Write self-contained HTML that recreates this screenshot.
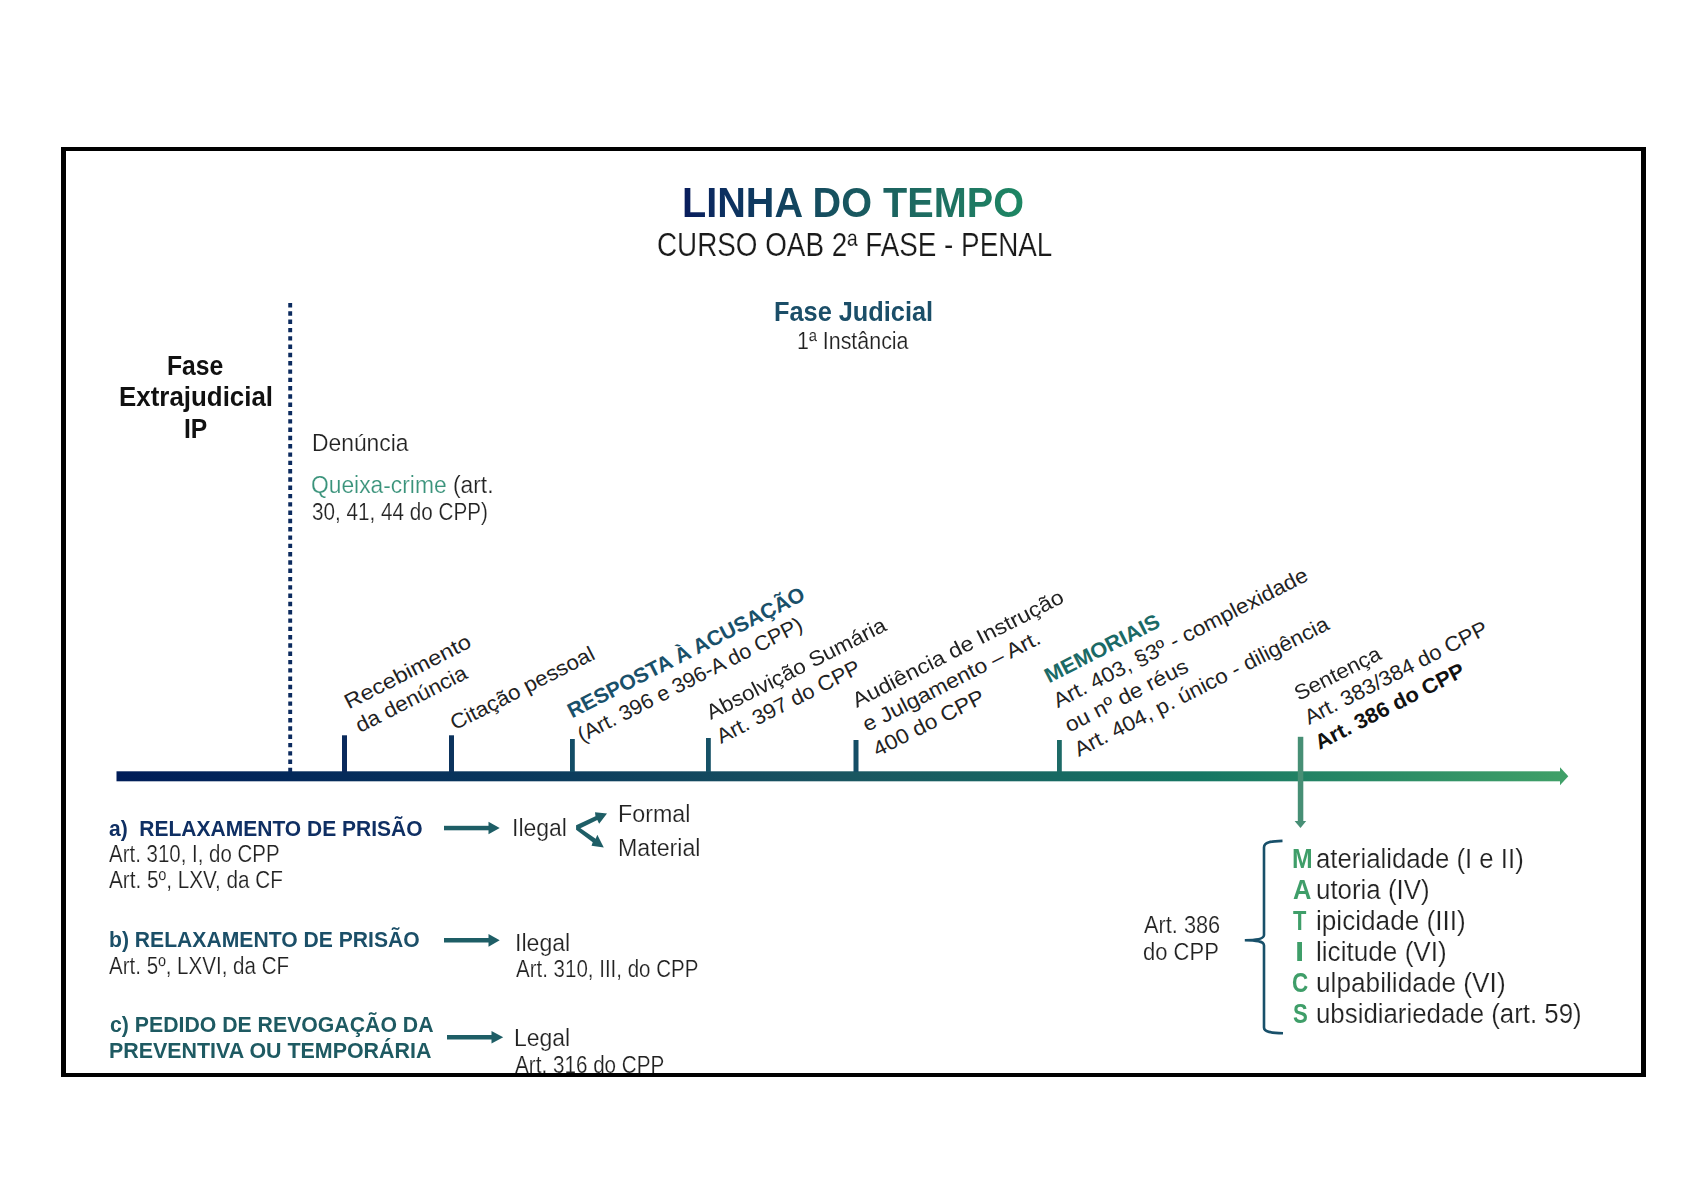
<!DOCTYPE html>
<html><head><meta charset="utf-8"><style>
html,body{margin:0;padding:0;background:#fff;}
body{width:1684px;height:1191px;position:relative;overflow:hidden;font-family:"Liberation Sans", sans-serif;}
.t{position:absolute;white-space:nowrap;line-height:1;transform-origin:0 0;}
.n{-webkit-text-stroke:0.2px #fff;}
.r{position:absolute;white-space:nowrap;transform-origin:0 0;}
.r div{white-space:nowrap;transform-origin:0 50%;}
</style></head><body>

<div class="t" style="left:682.11px;top:181.65px;font-size:42.00px;font-weight:bold;color:transparent;transform:scaleX(0.9436);background:linear-gradient(90deg,#091c5c 0%,#0c2f60 12%,#10405f 28%,#17525f 45%,#1c6460 62%,#1f7462 80%,#1d8763 100%);-webkit-background-clip:text;background-clip:text;">LINHA DO TEMPO</div>
<div class="t n" style="left:656.54px;top:229.10px;font-size:32.37px;font-weight:normal;color:#1a1a1a;transform:scaleX(0.8599);">CURSO OAB 2ª FASE - PENAL</div>
<div class="t" style="left:774.39px;top:297.65px;font-size:27.82px;font-weight:bold;color:#1b4e68;transform:scaleX(0.9107);">Fase Judicial</div>
<div class="t n" style="left:796.72px;top:329.13px;font-size:24.42px;font-weight:normal;color:#222;transform:scaleX(0.8775);">1ª Instância</div>
<div class="t" style="left:166.90px;top:351.90px;font-size:27.29px;font-weight:bold;color:#111;transform:scaleX(0.9048);">Fase</div>
<div class="t" style="left:119.45px;top:382.90px;font-size:27.29px;font-weight:bold;color:#111;transform:scaleX(0.9495);">Extrajudicial</div>
<div class="t" style="left:183.90px;top:415.00px;font-size:27.29px;font-weight:bold;color:#111;transform:scaleX(0.9032);">IP</div>
<div class="t n" style="left:311.74px;top:430.59px;font-size:23.76px;font-weight:normal;color:#222;transform:scaleX(0.9617);">Denúncia</div>
<div class="t n" style="left:311.05px;top:472.70px;font-size:23.98px;font-weight:normal;color:#222;transform:scaleX(0.9517);"><span style="color:#3a937b">Queixa-crime</span> (art.</div>
<div class="t n" style="left:312.00px;top:500.20px;font-size:23.98px;font-weight:normal;color:#222;transform:scaleX(0.8626);">30, 41, 44 do CPP)</div>
<div class="t" style="left:109.10px;top:818.13px;font-size:21.94px;font-weight:bold;color:#0f2f63;transform:scaleX(0.9575);">a)&nbsp; RELAXAMENTO DE PRISÃO</div>
<div class="t n" style="left:109.00px;top:842.66px;font-size:23.44px;font-weight:normal;color:#222;transform:scaleX(0.8728);">Art. 310, I, do CPP</div>
<div class="t n" style="left:109.00px;top:869.36px;font-size:23.44px;font-weight:normal;color:#222;transform:scaleX(0.8850);">Art. 5º, LXV, da CF</div>
<div class="t n" style="left:511.63px;top:816.24px;font-size:24.53px;font-weight:normal;color:#222;transform:scaleX(0.9373);">Ilegal</div>
<div class="t n" style="left:618.40px;top:802.24px;font-size:24.53px;font-weight:normal;color:#222;transform:scaleX(0.9502);">Formal</div>
<div class="t n" style="left:618.41px;top:836.34px;font-size:24.53px;font-weight:normal;color:#222;transform:scaleX(0.9457);">Material</div>
<div class="t" style="left:108.74px;top:928.63px;font-size:21.94px;font-weight:bold;color:#1b4f68;transform:scaleX(0.9632);">b) RELAXAMENTO DE PRISÃO</div>
<div class="t n" style="left:109.00px;top:954.66px;font-size:23.44px;font-weight:normal;color:#222;transform:scaleX(0.8774);">Art. 5º, LXVI, da CF</div>
<div class="t n" style="left:515.11px;top:930.94px;font-size:24.53px;font-weight:normal;color:#222;transform:scaleX(0.9427);">Ilegal</div>
<div class="t n" style="left:516.00px;top:957.96px;font-size:23.44px;font-weight:normal;color:#222;transform:scaleX(0.8749);">Art. 310, III, do CPP</div>
<div class="t" style="left:109.70px;top:1014.28px;font-size:22.47px;font-weight:bold;color:#1e5a62;transform:scaleX(0.9458);">c) PEDIDO DE REVOGAÇÃO DA</div>
<div class="t" style="left:109.05px;top:1040.48px;font-size:22.47px;font-weight:bold;color:#1e5a62;transform:scaleX(0.9529);">PREVENTIVA OU TEMPORÁRIA</div>
<div class="t n" style="left:514.13px;top:1026.44px;font-size:24.53px;font-weight:normal;color:#222;transform:scaleX(0.9374);">Legal</div>
<div class="t n" style="left:515.40px;top:1053.66px;font-size:23.44px;font-weight:normal;color:#222;transform:scaleX(0.8819);">Art. 316 do CPP</div>
<div class="t n" style="left:1143.50px;top:912.70px;font-size:23.98px;font-weight:normal;color:#222;transform:scaleX(0.9078);">Art. 386</div>
<div class="t n" style="left:1142.58px;top:939.70px;font-size:23.98px;font-weight:normal;color:#222;transform:scaleX(0.9179);">do CPP</div>
<div class="t" style="left:1291.60px;top:845.47px;font-size:27.56px;font-weight:bold;color:#3f9e69;transform:scaleX(0.9000);">M</div>
<div class="t n" style="left:1315.55px;top:845.94px;font-size:27.00px;font-weight:normal;color:#222;transform:scaleX(0.9545);">aterialidade (I e II)</div>
<div class="t" style="left:1292.50px;top:876.47px;font-size:27.56px;font-weight:bold;color:#3f9e69;transform:scaleX(0.9250);">A</div>
<div class="t n" style="left:1315.54px;top:876.94px;font-size:27.00px;font-weight:normal;color:#222;transform:scaleX(0.9584);">utoria (IV)</div>
<div class="t" style="left:1292.50px;top:907.47px;font-size:27.56px;font-weight:bold;color:#3f9e69;transform:scaleX(0.7941);">T</div>
<div class="t n" style="left:1315.53px;top:907.94px;font-size:27.00px;font-weight:normal;color:#222;transform:scaleX(0.9687);">ipicidade (III)</div>
<div class="t" style="left:1294.80px;top:938.47px;font-size:27.56px;font-weight:bold;color:#3f9e69;transform:scaleX(1.2000);">I</div>
<div class="t n" style="left:1315.53px;top:938.94px;font-size:27.00px;font-weight:normal;color:#222;transform:scaleX(0.9681);">licitude (VI)</div>
<div class="t" style="left:1291.68px;top:969.47px;font-size:27.56px;font-weight:bold;color:#3f9e69;transform:scaleX(0.8158);">C</div>
<div class="t n" style="left:1315.53px;top:969.94px;font-size:27.00px;font-weight:normal;color:#222;transform:scaleX(0.9719);">ulpabilidade (VI)</div>
<div class="t" style="left:1292.50px;top:1000.47px;font-size:27.56px;font-weight:bold;color:#3f9e69;transform:scaleX(0.8056);">S</div>
<div class="t n" style="left:1315.54px;top:1000.94px;font-size:27.00px;font-weight:normal;color:#222;transform:scaleX(0.9566);">ubsidiariedade (art. 59)</div>
<div class="r" style="left:349.68px;top:689.39px;transform-origin:0 20.43px;transform:rotate(-27.00deg);"><div class="" style="height:26.30px;line-height:26.30px;font-size:21.00px;font-weight:normal;color:#222;transform:translateX(-1.12px) scaleX(1.1241);">Recebimento</div><div class="" style="height:26.30px;line-height:26.30px;font-size:21.00px;font-weight:normal;color:#222;transform:translateX(-1.90px) scaleX(1.0684);">da denúncia</div></div>
<div class="r" style="left:456.18px;top:710.39px;transform-origin:0 20.43px;transform:rotate(-27.00deg);"><div class="" style="height:26.30px;line-height:26.30px;font-size:21.00px;font-weight:normal;color:#222;transform:translateX(-1.06px) scaleX(1.0626);">Citação pessoal</div></div>
<div class="r" style="left:572.78px;top:697.79px;transform-origin:0 20.43px;transform:rotate(-27.00deg);"><div class="" style="height:26.30px;line-height:26.30px;font-size:21.00px;font-weight:bold;color:#19506a;transform:translateX(-1.01px) scaleX(1.0104);">RESPOSTA À ACUSAÇÃO</div><div class="" style="height:26.30px;line-height:26.30px;font-size:21.00px;font-weight:normal;color:#222;transform:translateX(-2.92px) scaleX(1.0217);">(Art. 396 e 396-A do CPP)</div></div>
<div class="r" style="left:711.18px;top:700.39px;transform-origin:0 20.43px;transform:rotate(-27.00deg);"><div class="" style="height:26.30px;line-height:26.30px;font-size:21.00px;font-weight:normal;color:#222;transform:translateX(0.00px) scaleX(1.0704);">Absolvição Sumária</div><div class="" style="height:26.30px;line-height:26.30px;font-size:21.00px;font-weight:normal;color:#222;transform:translateX(-1.90px) scaleX(1.0435);">Art. 397 do CPP</div></div>
<div class="r" style="left:857.18px;top:688.19px;transform-origin:0 20.43px;transform:rotate(-27.00deg);"><div class="" style="height:26.30px;line-height:26.30px;font-size:21.00px;font-weight:normal;color:#222;transform:translateX(0.00px) scaleX(1.0960);">Audiência de Instrução</div><div class="" style="height:26.30px;line-height:26.30px;font-size:21.00px;font-weight:normal;color:#222;transform:translateX(-1.90px) scaleX(1.0873);">e Julgamento – Art.</div><div class="" style="height:26.30px;line-height:26.30px;font-size:21.00px;font-weight:normal;color:#222;transform:translateX(-3.80px) scaleX(1.0781);">400 do CPP</div></div>
<div class="r" style="left:1049.88px;top:663.49px;transform-origin:0 20.43px;transform:rotate(-27.00deg);"><div class="" style="height:26.30px;line-height:26.30px;font-size:21.00px;font-weight:bold;color:#1b6a66;transform:translateX(-1.04px) scaleX(1.0430);">MEMORIAIS</div><div class="" style="height:26.30px;line-height:26.30px;font-size:21.00px;font-weight:normal;color:#222;transform:translateX(-4.40px) scaleX(1.0690);">Art. 403, §3º - complexidade</div><div class="" style="height:26.30px;line-height:26.30px;font-size:21.00px;font-weight:normal;color:#222;transform:translateX(-5.30px) scaleX(1.0894);">ou nº de réus</div><div class="" style="height:26.30px;line-height:26.30px;font-size:21.00px;font-weight:normal;color:#222;transform:translateX(-7.70px) scaleX(1.0667);">Art. 404, p. único - diligência</div></div>
<div class="r" style="left:1298.78px;top:681.29px;transform-origin:0 20.43px;transform:rotate(-27.00deg);"><div class="" style="height:26.30px;line-height:26.30px;font-size:21.00px;font-weight:normal;color:#222;transform:translateX(0.00px) scaleX(1.0622);">Sentença</div><div class="" style="height:26.30px;line-height:26.30px;font-size:21.00px;font-weight:normal;color:#222;transform:translateX(-1.90px) scaleX(1.0511);">Art. 383/384 do CPP</div><div class="" style="height:26.30px;line-height:26.30px;font-size:21.00px;font-weight:bold;color:#111;transform:translateX(-3.80px) scaleX(1.0461);">Art. 386 do CPP</div></div>
<svg width="1684" height="1191" style="position:absolute;left:0;top:0">
<defs>
<linearGradient id="bar" gradientUnits="userSpaceOnUse" x1="116" y1="0" x2="1568" y2="0">
<stop offset="0" stop-color="#001d58"/>
<stop offset="0.254" stop-color="#08355c"/>
<stop offset="0.499" stop-color="#1a5560"/>
<stop offset="0.744" stop-color="#157663"/>
<stop offset="1" stop-color="#40a068"/>
</linearGradient>
</defs>
<rect x="116.5" y="771.3" width="1444" height="10" fill="url(#bar)"/>
<polygon points="1560,767.3 1568.3,776.3 1560,785.2" fill="#40a068"/>
<line x1="290.2" y1="303" x2="290.2" y2="772" stroke="#0b2a5e" stroke-width="3.9" stroke-dasharray="4.4 3.9"/>
<rect x="342" y="735.3" width="5" height="37" fill="#0a2a5c"/>
<rect x="449" y="735.3" width="5" height="37" fill="#0c335d"/>
<rect x="570" y="739" width="4.8" height="33" fill="#134d66"/>
<rect x="706" y="738" width="4.8" height="34" fill="#165166"/>
<rect x="853.5" y="740" width="5" height="32" fill="#154e66"/>
<rect x="1057" y="740" width="4.8" height="32" fill="#1c6a66"/>
<rect x="1297.8" y="736.8" width="5.5" height="85" fill="#478f75"/>
<polygon points="1294.6,821 1306.2,821 1300.5,828" fill="#478f75"/>
<g fill="#1e5e66" stroke="none">
<rect x="444" y="825.8" width="46" height="4.5"/>
<polygon points="488.5,821.7 499.7,828 488.5,834.3"/>
<rect x="444" y="938" width="46" height="4.5"/>
<polygon points="488.5,934.1 499.7,940.3 488.5,946.7"/>
<rect x="447" y="1035" width="46" height="4.5"/>
<polygon points="491.5,1031 503.2,1037.3 491.5,1043.6"/>
</g>
<polygon points="576.08,825.16 595.47,816.16 595.01,812.23 607.01,813.62 599.16,823.78 597.32,820.08 580.47,828.16 595.70,838.78 597.32,834.86 603.78,847.55 591.55,845.71 592.70,842.24 576.08,829.78" fill="#1e5e66"/>
<path d="M1282.5,840.9 C1271,841.3 1264,842 1264,847.5 L1264,935 C1264,939 1257,940.2 1244.8,940.2 C1257,940.3 1264,941 1264,945.5 L1264,1027.5 C1264,1032 1271,1033 1283,1033.3" fill="none" stroke="#18506a" stroke-width="2.6"/>
</svg>

<div style="position:absolute;left:61px;top:147px;width:1575px;height:922px;border-style:solid;border-color:#000;border-width:4px 5px 4px 5px;"></div>
</body></html>
